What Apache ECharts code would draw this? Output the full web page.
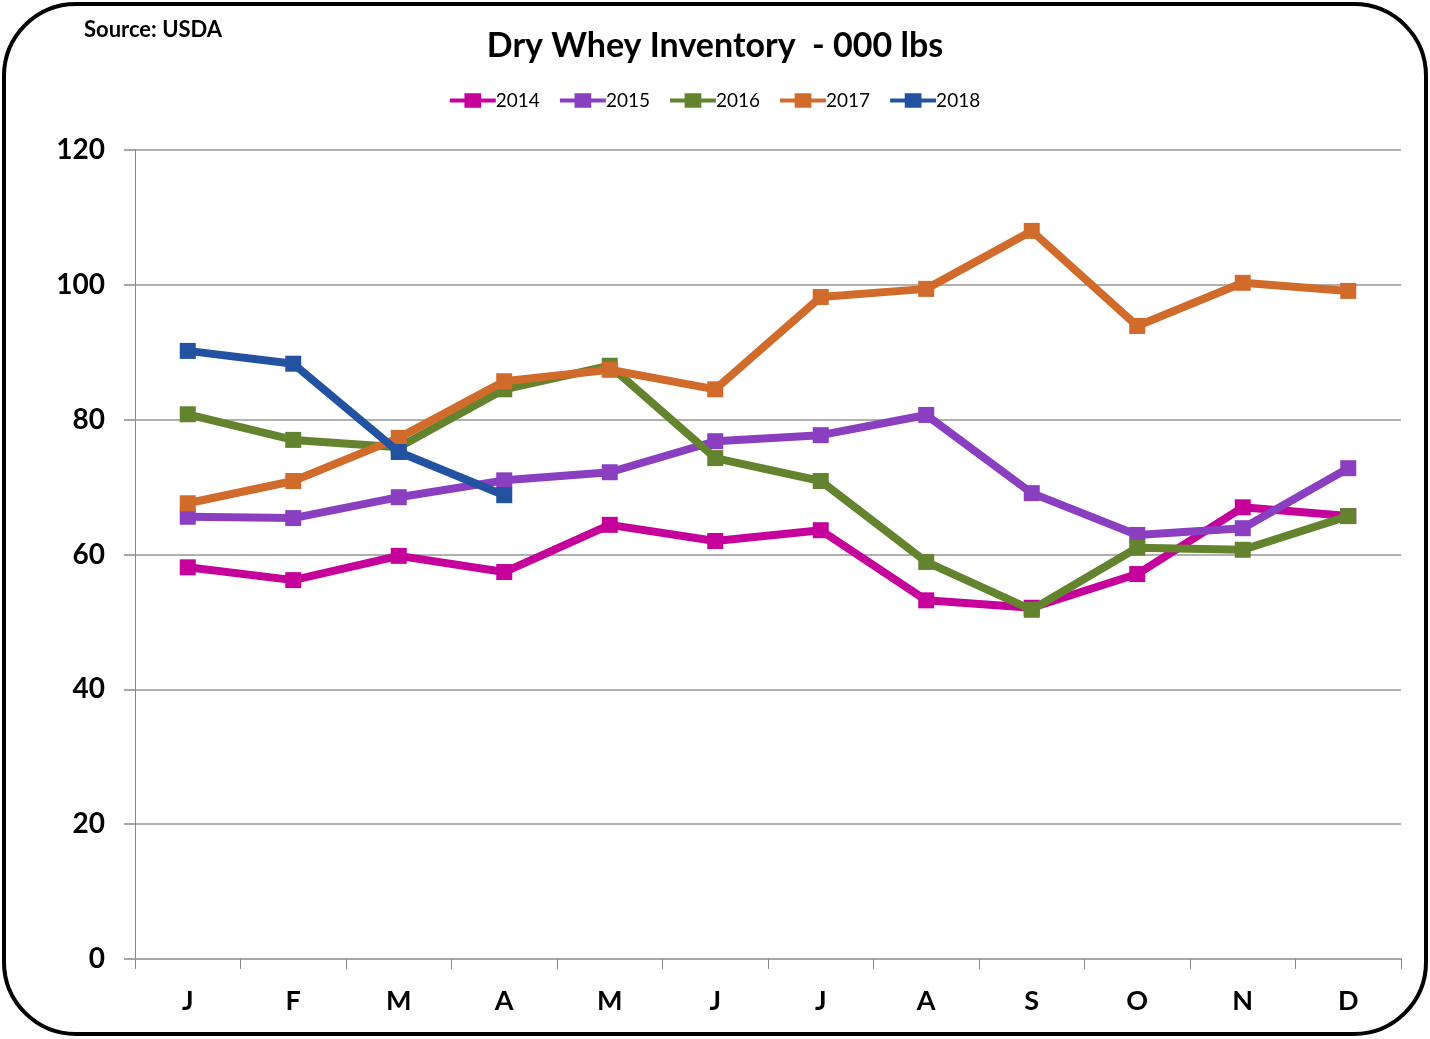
<!DOCTYPE html>
<html><head><meta charset="utf-8">
<script src="https://cdn.jsdelivr.net/npm/echarts@6/dist/echarts.min.js"></script>
<style>html,body{margin:0;padding:0;background:#fff}#c{width:1430px;height:1039px}</style>
</head><body><div id="c"></div>
<script>
const months = ['J','F','M','A','M','J','J','A','S','O','N','D'];
const s2014 = [58.1, 56.2, 59.8, 57.4, 64.4, 62.0, 63.6, 53.2, 52.1, 57.1, 67.0, 65.7];
const s2015 = [65.6, 65.4, 68.5, 71.0, 72.2, 76.8, 77.7, 80.7, 69.1, 62.9, 63.9, 72.8];
const s2016 = [80.8, 77.0, 75.9, 84.5, 88.0, 74.3, 70.9, 58.9, 51.8, 61.0, 60.7, 65.7];
const s2017 = [67.6, 70.9, 77.3, 85.7, 87.4, 84.5, 98.2, 99.4, 108.0, 93.9, 100.3, 99.1];
const s2018 = [90.2, 88.3, 75.2, 68.8];
const yTicks = [0, 20, 40, 60, 80, 100, 120];

const seriesDefs = [
  {name:'2014', data:s2014, color:'#C5009B'},
  {name:'2015', data:s2015, color:'#8A3FC1'},
  {name:'2016', data:s2016, color:'#64832F'},
  {name:'2017', data:s2017, color:'#D06B2C'},
  {name:'2018', data:s2018, color:'#2352A1'}
];

const chart = echarts.init(document.getElementById('c'), null, {renderer:'canvas'});
const FONT = 'Lato, "Open Sans", sans-serif';
chart.setOption({
  animation:false,
  backgroundColor:'#fff',
  graphic:[
    {type:'rect', shape:{x:4, y:4, width:1422, height:1030, r:72}, style:{fill:'none', stroke:'#000', lineWidth:4}, z:-1},
    {type:'text', left:84, top:19, style:{text:'Source: USDA', font:'bold 22px '+FONT, fill:'#000'}},
  ],
  title:{text:'Dry Whey Inventory  - 000 lbs', left:'center', top:24,
    textStyle:{fontFamily:FONT, fontWeight:'bold', fontSize:34, color:'#000'}},
  legend:{top:86, left:'center', itemWidth:46, itemHeight:15, itemGap:20,
    textStyle:{fontFamily:FONT, fontSize:19, color:'#000', padding:[0,0,0,-5]},
    data:seriesDefs.map(s=>({name:s.name, icon:'path://M0,5 L14,5 L14,0 L30,0 L30,5 L44,5 L44,9 L30,9 L30,14 L14,14 L14,9 L0,9 Z'}))},
  grid:{left:135, right:29, top:150, bottom:80},
  xAxis:{type:'category', data:months, boundaryGap:true,
    axisLine:{lineStyle:{color:'#A6A6A6', width:2}},
    axisTick:{show:true, alignWithLabel:false, length:10, lineStyle:{color:'#888', width:1}},
    axisLabel:{fontFamily:FONT, fontWeight:'bold', fontSize:27, color:'#000', margin:29},
    splitLine:{show:false}},
  yAxis:{type:'value', min:0, max:120, interval:20,
    axisLine:{show:true, lineStyle:{color:'#888', width:1}},
    axisTick:{show:true, length:11, lineStyle:{color:'#A6A6A6', width:2}},
    axisLabel:{fontFamily:FONT, fontWeight:'bold', fontSize:28, color:'#000', margin:30},
    splitLine:{lineStyle:{color:'#B0B0B0', width:2}}},
  series:seriesDefs.map((s,i)=>({
    name:s.name, type:'line', data:s.data, symbol:'rect', symbolSize:16,
    lineStyle:{color:s.color, width:8}, itemStyle:{color:s.color}, z:2+i
  }))
});
</script></body></html>
